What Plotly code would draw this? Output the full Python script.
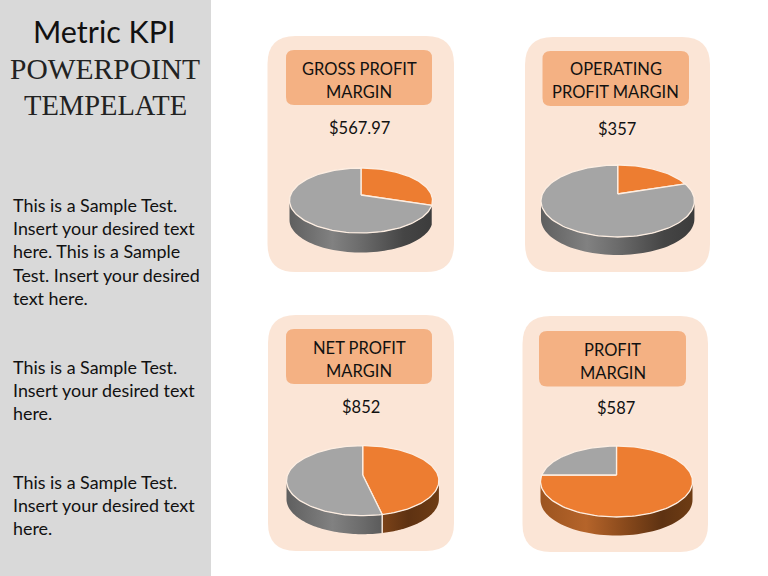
import math
import plotly.graph_objects as go

# ---- data ----
titles = [["GROSS PROFIT", "MARGIN"], ["OPERATING", "PROFIT MARGIN"], ["NET PROFIT", "MARGIN"], ["PROFIT", "MARGIN"]]
amounts = ["$567.97", "$357", "$852", "$587"]
orange_share = [30, 20, 46.5, 75]
grey_share = [70, 80, 53.5, 25]

heading_top = "Metric KPI"
heading_serif = ["POWERPOINT", "TEMPELATE"]
side_lines = [
    ["This is a Sample Test.", "Insert your desired text", "here. This is a Sample", "Test. Insert your desired", "text here."],
    ["This is a Sample Test.", "Insert your desired text", "here."],
    ["This is a Sample Test.", "Insert your desired text", "here."],
]

# ---- layout (pixels) ----
W, H = 768, 576
panels = [(267.5, 454, 36, 272), (525, 710, 37, 272), (268, 454, 315, 551), (522.5, 708, 316, 552)]
boxes = [(286, 432, 50, 105), (542.5, 689, 51, 106), (286, 432, 329, 384), (539, 686, 331, 386.5)]
# cx, apex y, half width, distance apex->back, apex->front, rim depth
pies = [
    (361, 195, 71.5, 27, 38, 19.5),
    (617.7, 194, 76.7, 29, 43, 18),
    (362.7, 475, 76.2, 29.3, 40.7, 18.5),
    (616.5, 475, 76, 29, 42, 18.5),
]
title_y = [[69, 92], [69, 92], [348, 371], [350, 373]]
amount_y = [127.5, 128.5, 406.5, 407.5]
text_cx = [359, 615.5, 359, 612.5]
amount_cx = [359.5, 617, 361, 616]

ORANGE, GREY = "#ed7d31", "#a5a5a5"
EDGE = "#fdeee2"
GREY_RIM = [(0, "#5f5f5f"), (.3, "#818181"), (.5, "#6b6b6b"), (.8, "#454545"), (1, "#3c3c3c")]
ORANGE_RIM = [(0, "#9c5420"), (.3, "#b5642a"), (.55, "#8a4a1c"), (.8, "#5e3212"), (1, "#6e3c14")]


def rgb(h):
    return tuple(int(h[i:i + 2], 16) for i in (1, 3, 5))


def at(stops, p):
    p = min(1, max(0, p))
    for (a, ca), (b, cb) in zip(stops, stops[1:]):
        if p <= b:
            f = (p - a) / (b - a)
            v = [round(x + (y - x) * f) for x, y in zip(rgb(ca), rgb(cb))]
            return "rgb(%d,%d,%d)" % tuple(v)
    return stops[-1][1]


def sub_scale(stops, p0, p1):
    ps = [p0] + [s for s, _ in stops if p0 < s < p1] + [p1]
    return [[(p - p0) / (p1 - p0), at(stops, p)] for p in ps]


def rounded(x0, x1, y0, y1, r):
    return (f"M{x0+r},{y0} L{x1-r},{y0} Q{x1},{y0} {x1},{y0+r} L{x1},{y1-r} Q{x1},{y1} {x1-r},{y1} "
            f"L{x0+r},{y1} Q{x0},{y1} {x0},{y1-r} L{x0},{y0+r} Q{x0},{y0} {x0+r},{y0} Z")


shapes = [dict(type="rect", x0=0, x1=211, y0=0, y1=H, fillcolor="#d9d9d9", line_width=0, layer="below")]
for p in panels:
    shapes.append(dict(type="path", path=rounded(*p, 28), fillcolor="#fbe5d6", line_width=0, layer="below"))
for b in boxes:
    shapes.append(dict(type="path", path=rounded(*b, 8), fillcolor="#f4b183", line_width=0, layer="below"))

fig = go.Figure()


def add_pie(i):
    cx, ay, hw, back, front, depth = pies[i]
    ratio = front / back
    k = (ratio - 1) / (ratio + 1)
    Hh = back * (1 + k)
    R = hw * math.sqrt(1 - k * k)

    def pt(deg, off=0.0):
        t = math.radians(deg)
        w = 1 + k * math.cos(t)
        return cx + R * math.sin(t) / w, ay - Hh * math.cos(t) / w + off

    total = orange_share[i] + grey_share[i]
    split = 360 * orange_share[i] / total
    slices = [(0, split, ORANGE, ORANGE_RIM), (split, 360, GREY, GREY_RIM)]
    vis0 = math.degrees(math.acos(-k))
    vis1 = 360 - vis0
    # a boundary right at the silhouette: the wall simply starts there
    if vis0 < split < vis0 + 15:
        vis0 = split
    # rim pieces
    for a, b, _, stops in slices:
        s, e = max(a, vis0), min(b, vis1)
        if e <= s:
            continue
        ts = [s + (e - s) * n / 60 for n in range(61)]
        top = [pt(t) for t in ts]
        bot = [pt(t, depth) for t in reversed(ts)]
        poly = top + bot + top[:1]
        xs = [q[0] for q in poly]
        ys = [q[1] for q in poly]
        p0 = (min(xs) - (cx - hw)) / (2 * hw)
        p1 = (max(xs) - (cx - hw)) / (2 * hw)
        if p1 - p0 < 1e-3:
            continue
        fig.add_trace(go.Scatter(
            x=xs, y=ys, mode="none", fill="toself",
            fillgradient=dict(type="horizontal", colorscale=sub_scale(stops, p0, p1)),
            hoverinfo="skip", showlegend=False))
    # seam on the wall
    if vis0 < split < vis1:
        q0, q1 = pt(split), pt(split, depth)
        fig.add_trace(go.Scatter(x=[q0[0], q1[0]], y=[q0[1], q1[1]], mode="lines",
                                 line=dict(color=EDGE, width=1.4), hoverinfo="skip", showlegend=False))
    # top faces
    for a, b, col, _ in slices:
        n = max(4, int((b - a) / 2))
        ts = [a + (b - a) * j / n for j in range(n + 1)]
        poly = [(cx, ay)] + [pt(t) for t in ts] + [(cx, ay)]
        fig.add_trace(go.Scatter(
            x=[q[0] for q in poly], y=[q[1] for q in poly], mode="lines", fill="toself",
            fillcolor=col, line=dict(color=EDGE, width=1.3),
            hoverinfo="skip", showlegend=False))


for i in range(4):
    add_pie(i)

ann = []


def text(x, y, s, size, family="Lato", anchor="center", color="#111111"):
    ann.append(dict(x=x, y=y, xref="x", yref="y", text=s, showarrow=False, xanchor=anchor, yanchor="middle",
                    font=dict(family=family, size=size, color=color), align=anchor))


text(104.5, 31, heading_top, 30.5)
text(105, 69, heading_serif[0], 29.5, family="Liberation Serif", color="#222222")
text(105, 105, heading_serif[1], 28.5, family="Liberation Serif", color="#222222")

starts = [205, 367, 482]
for block, y0 in zip(side_lines, starts):
    for j, line in enumerate(block):
        text(11, y0 + j * 23.2, line, 17.9, anchor="left")

for i in range(4):
    for s, y in zip(titles[i], title_y[i]):
        text(text_cx[i], y, s, 16.5)
    text(amount_cx[i], amount_y[i], amounts[i], 16.5)

fig.update_layout(
    width=W, height=H, margin=dict(l=0, r=0, t=0, b=0), paper_bgcolor="white", plot_bgcolor="white",
    xaxis=dict(range=[0, W], visible=False, fixedrange=True),
    yaxis=dict(range=[H, 0], visible=False, fixedrange=True),
    shapes=shapes, annotations=ann, showlegend=False,
)
fig.write_html("out.html", config={"displayModeBar": False},
               post_script="document.body.style.margin='0';document.body.style.overflow='hidden';")
